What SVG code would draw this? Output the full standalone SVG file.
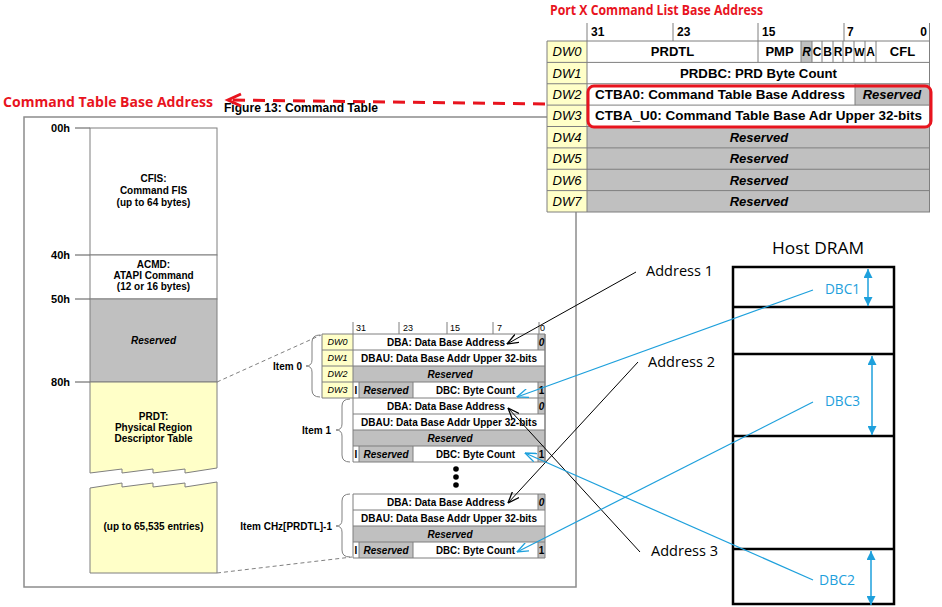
<svg xmlns="http://www.w3.org/2000/svg" width="942" height="607" viewBox="0 0 942 607">
<style>
.a{font-family:'Liberation Sans',Arial,sans-serif;font-weight:bold;fill:#000}
.i{font-style:italic}
.n{font-weight:normal}
.c{font-family:'Open Sans','Liberation Sans',sans-serif;font-weight:normal}
.red{fill:#e8141e;font-weight:bold}
.blue{fill:#1ea0dc}
.m{text-anchor:middle}
.e{text-anchor:end}
.g{fill:#c0c0c0}
.y{fill:#ffffc8}
.w{fill:#fff}
.ln{stroke:#7f7f7f;stroke-width:1;fill:none}
.s13{font-size:13px}
.s12{font-size:12px}
.s10{font-size:10px}
.s9{font-size:9px}
.blk{stroke:#000;stroke-width:1;fill:none}
.bl{stroke:#1ea0dc;stroke-width:1.2;fill:none}
</style>
<defs>
<marker id="ab" viewBox="0 0 12 10" refX="11.5" refY="5" markerWidth="12" markerHeight="10" markerUnits="userSpaceOnUse" orient="auto"><path d="M0,0.5 L11.5,5 L0,9.5" fill="none" stroke="#000" stroke-width="1.3"/></marker>
<marker id="abl" viewBox="0 0 12 10" refX="11.5" refY="5" markerWidth="12" markerHeight="10" markerUnits="userSpaceOnUse" orient="auto"><path d="M0,0.5 L11.5,5 L0,9.5" fill="none" stroke="#1ea0dc" stroke-width="1.3"/></marker>
<marker id="tri" viewBox="0 0 10 10" refX="10" refY="5" markerWidth="10" markerHeight="9" markerUnits="userSpaceOnUse" orient="auto-start-reverse"><path d="M0,0 L10,5 L0,10 Z" fill="#1ea0dc"/></marker>
</defs>
<rect width="942" height="607" fill="#fff"/>

<!-- Command table frame -->
<g id="command-table">
<rect x="24" y="117" width="552" height="470" fill="#fff" stroke="#8c8c8c" stroke-width="1.5"/>
<text x="224" y="112" class="a s12" textLength="154" lengthAdjust="spacingAndGlyphs">Figure 13: Command Table</text>
<path d="M75,128H90M75,255H90M75,299H90M75,382H90" stroke="#555" stroke-width="1"/>
<text x="70" y="132" class="a e" font-size="11">00h</text>
<text x="70" y="259" class="a e" font-size="11">40h</text>
<text x="70" y="303" class="a e" font-size="11">50h</text>
<text x="70" y="386" class="a e" font-size="11">80h</text>
<rect x="90" y="128" width="127" height="127" class="w" stroke="#7f7f7f"/>
<rect x="90" y="255" width="127" height="44" class="w" stroke="#7f7f7f"/>
<rect x="90" y="299" width="127" height="83" class="g" stroke="#7f7f7f"/>
<path d="M90,382H217V468L185,473V469L153,473V469L122,473V469L90,473Z" class="y" stroke="#7f7f7f"/>
<path d="M90,488L122,483V487L153,483V487L185,483V487L217,482V573H90Z" class="y" stroke="#7f7f7f"/>
<text class="a s10 m"><tspan x="153.5" y="182">CFIS:</tspan><tspan x="153.5" y="194">Command FIS</tspan><tspan x="153.5" y="206">(up to 64 bytes)</tspan></text>
<text class="a s10 m"><tspan x="153.5" y="268">ACMD:</tspan><tspan x="153.5" y="279">ATAPI Command</tspan><tspan x="153.5" y="290">(12 or 16 bytes)</tspan></text>
<text x="153.5" y="344" class="a s10 m i">Reserved</text>
<text class="a s10 m"><tspan x="153.5" y="420">PRDT:</tspan><tspan x="153.5" y="431">Physical Region</tspan><tspan x="153.5" y="442">Descriptor Table</tspan></text>
<text x="153.5" y="530" class="a s10 m">(up to 65,535 entries)</text>
<path d="M217,382L321,335M217,573L352,557" stroke="#808080" stroke-width="1" stroke-dasharray="4 3" fill="none"/>
</g>

<!-- PRD table detail -->
<g id="prdt-detail">
<path d="M353,322V334M399,322V334M447,322V334M493,322V334M539,322V334" class="ln"/>
<text class="a n s9"><tspan x="356" y="331">31</tspan><tspan x="403" y="331">23</tspan><tspan x="450" y="331">15</tspan><tspan x="497" y="331">7</tspan><tspan x="540" y="331">0</tspan></text>
<rect x="322" y="334" width="31" height="64" class="y"/>
<rect x="353" y="334" width="192" height="16" class="w"/>
<rect x="538" y="334" width="7" height="16" class="g"/>
<rect x="353" y="350" width="192" height="16" class="w"/>
<rect x="353" y="366" width="192" height="16" class="g"/>
<rect x="353" y="382" width="192" height="16" class="w"/>
<rect x="359" y="382" width="54" height="16" class="g"/>
<rect x="538" y="382" width="7" height="16" class="g"/>
<rect x="353" y="398" width="192" height="16" class="w"/>
<rect x="538" y="398" width="7" height="16" class="g"/>
<rect x="353" y="414" width="192" height="16" class="w"/>
<rect x="353" y="430" width="192" height="16" class="g"/>
<rect x="353" y="446" width="192" height="16" class="w"/>
<rect x="359" y="446" width="54" height="16" class="g"/>
<rect x="538" y="446" width="7" height="16" class="g"/>
<rect x="353" y="494" width="192" height="16" class="w"/>
<rect x="538" y="494" width="7" height="16" class="g"/>
<rect x="353" y="510" width="192" height="16" class="w"/>
<rect x="353" y="526" width="192" height="16" class="g"/>
<rect x="353" y="542" width="192" height="16" class="w"/>
<rect x="359" y="542" width="54" height="16" class="g"/>
<rect x="538" y="542" width="7" height="16" class="g"/>
<path class="ln" d="M322,334H545V462H353M322,350H545M322,366H545M322,382H545M322,398H545M353,414H545M353,430H545M353,446H545M322,334V398M353,334V462M545,334V462M538,334V350M538,398V414M538,382V398M538,446V462M359,382V398M413,382V398M359,446V462M413,446V462"/>
<path class="ln" d="M353,494H545V558H353ZM353,510H545M353,526H545M353,542H545M538,494V510M538,542V558M359,542V558M413,542V558"/>
<text class="a n i s9 m"><tspan x="337.5" y="345">DW0</tspan><tspan x="337.5" y="361">DW1</tspan><tspan x="337.5" y="377">DW2</tspan><tspan x="337.5" y="393">DW3</tspan></text>
<g class="a s10">
<text x="446" y="345.5" class="m" textLength="118" lengthAdjust="spacingAndGlyphs">DBA: Data Base Address</text>
<text x="449" y="361.5" class="m" textLength="176" lengthAdjust="spacingAndGlyphs">DBAU: Data Base Addr Upper 32-bits</text>
<text x="450" y="377.5" class="m i">Reserved</text>
<text x="356" y="393.5" class="m">I</text>
<text x="386" y="393.5" class="m i">Reserved</text>
<text x="475.5" y="393.5" class="m" textLength="79" lengthAdjust="spacingAndGlyphs">DBC: Byte Count</text>
<text x="541.5" y="345.5" class="m i">0</text>
<text x="541.5" y="393.5" class="m">1</text>
<text x="446" y="409.5" class="m" textLength="118" lengthAdjust="spacingAndGlyphs">DBA: Data Base Address</text>
<text x="449" y="425.5" class="m" textLength="176" lengthAdjust="spacingAndGlyphs">DBAU: Data Base Addr Upper 32-bits</text>
<text x="450" y="441.5" class="m i">Reserved</text>
<text x="356" y="457.5" class="m">I</text>
<text x="386" y="457.5" class="m i">Reserved</text>
<text x="475.5" y="457.5" class="m" textLength="79" lengthAdjust="spacingAndGlyphs">DBC: Byte Count</text>
<text x="541.5" y="409.5" class="m i">0</text>
<text x="541.5" y="457.5" class="m">1</text>
<text x="446" y="505.5" class="m" textLength="118" lengthAdjust="spacingAndGlyphs">DBA: Data Base Address</text>
<text x="449" y="521.5" class="m" textLength="176" lengthAdjust="spacingAndGlyphs">DBAU: Data Base Addr Upper 32-bits</text>
<text x="450" y="537.5" class="m i">Reserved</text>
<text x="356" y="553.5" class="m">I</text>
<text x="386" y="553.5" class="m i">Reserved</text>
<text x="475.5" y="553.5" class="m" textLength="79" lengthAdjust="spacingAndGlyphs">DBC: Byte Count</text>
<text x="541.5" y="505.5" class="m i">0</text>
<text x="541.5" y="553.5" class="m">1</text>
<text x="302" y="370" class="e">Item 0</text>
<text x="331" y="434" class="e">Item 1</text>
<text x="332" y="530" class="e">Item CHz[PRDTL]-1</text>
</g>
<path d="M320,335Q312,335 312,342V360Q312,366 306,366Q312,366 312,372V390Q312,397 320,397" stroke="#808080" fill="none"/>
<path d="M350,399Q342,399 342,406V424Q342,430 336,430Q342,430 342,436V455Q342,462 350,462" stroke="#808080" fill="none"/>
<path d="M350,494Q342,494 342,501V520Q342,526 336,526Q342,526 342,532V550Q342,557 350,557" stroke="#808080" fill="none"/>
<circle cx="456" cy="469" r="2.8"/>
<circle cx="456" cy="477" r="2.8"/>
<circle cx="456" cy="485" r="2.8"/>
</g>

<!-- Port X command list -->
<g id="port-cmd-list">
<text x="550" y="15" class="c red" font-size="14" textLength="213" lengthAdjust="spacingAndGlyphs">Port X Command List Base Address</text>
<rect x="547" y="22" width="383" height="19" class="w"/>
<rect x="547" y="41" width="40" height="171" class="y"/>
<rect x="587" y="41" width="343" height="171" class="w"/>
<rect x="801" y="41" width="11" height="21.4" class="g"/>
<rect x="855" y="83.75" width="75" height="21.4" class="g"/>
<rect x="587" y="126.5" width="343" height="85.5" class="g"/>
<path class="ln" d="M587,23V41M673,23V41M758,23V62.4M844,23V41M929.5,23V212M547,41H930M547,62.4H930M547,83.75H930M547,105.1H930M547,126.5H930M547,147.9H930M547,169.25H930M547,190.6H930M547,212H930M547,41V212M587,41V212M801,41V62.4M812,41V62.4M822,41V62.4M833,41V62.4M843,41V62.4M854,41V62.4M865,41V62.4M876,41V62.4M855,83.75V105.1"/>
<g class="a s13">
<text x="591" y="36" font-size="12">31</text>
<text x="677" y="36" font-size="12">23</text>
<text x="762" y="36" font-size="12">15</text>
<text x="847" y="36" font-size="12">7</text>
<text x="927" y="36" font-size="12" class="e">0</text>
<g class="n i"><text x="567" y="56" class="m">DW0</text><text x="567" y="77.5" class="m">DW1</text><text x="567" y="99" class="m">DW2</text><text x="567" y="120.3" class="m">DW3</text><text x="567" y="141.7" class="m">DW4</text><text x="567" y="163" class="m">DW5</text><text x="567" y="184.5" class="m">DW6</text><text x="567" y="205.8" class="m">DW7</text></g>
<text x="672.5" y="56" class="m">PRDTL</text>
<text x="779.5" y="56" class="m">PMP</text>
<text x="806.5" y="56" class="m i" font-size="12">R</text>
<text x="817" y="56" class="m" font-size="12">C</text>
<text x="827.5" y="56" class="m" font-size="12">B</text>
<text x="838" y="56" class="m" font-size="12">R</text>
<text x="848.5" y="56" class="m" font-size="12">P</text>
<text x="859.5" y="56" class="m" font-size="11">W</text>
<text x="870.5" y="56" class="m" font-size="12">A</text>
<text x="902.5" y="56" class="m">CFL</text>
<text x="758.5" y="77.5" class="m" textLength="157" lengthAdjust="spacingAndGlyphs">PRDBC: PRD Byte Count</text>
<text x="720" y="99" class="m" textLength="250" lengthAdjust="spacingAndGlyphs">CTBA0: Command Table Base Address</text>
<text x="892" y="99" class="m i">Reserved</text>
<text x="758.5" y="120.3" class="m" textLength="327" lengthAdjust="spacingAndGlyphs">CTBA_U0: Command Table Base Adr Upper 32-bits</text>
<text x="759" y="141.7" class="m i">Reserved</text>
<text x="759" y="163" class="m i">Reserved</text>
<text x="759" y="184.5" class="m i">Reserved</text>
<text x="759" y="205.8" class="m i">Reserved</text>
</g>
<rect x="588" y="86" width="343" height="41" rx="6" fill="none" stroke="#e8141e" stroke-width="3"/>
</g>

<!-- Host DRAM -->
<g id="host-dram">
<text x="772" y="254" class="c" font-size="17" textLength="92" lengthAdjust="spacingAndGlyphs">Host DRAM</text>
<rect x="733" y="267" width="161" height="337" fill="#fff" stroke="#000" stroke-width="2.5"/>
<path d="M733,307H894M733,354H894M733,436H894M733,549H894" stroke="#000" stroke-width="2.5"/>
</g>

<g id="labels">
<text x="3" y="107" class="c red" font-size="15" textLength="210" lengthAdjust="spacingAndGlyphs">Command Table Base Address</text>
<text x="646" y="276" class="c" font-size="14" textLength="67" lengthAdjust="spacingAndGlyphs">Address 1</text>
<text x="648" y="367" class="c" font-size="14" textLength="67" lengthAdjust="spacingAndGlyphs">Address 2</text>
<text x="651" y="556" class="c" font-size="14" textLength="67" lengthAdjust="spacingAndGlyphs">Address 3</text>
<text x="825" y="294" class="c blue" font-size="14" textLength="35" lengthAdjust="spacingAndGlyphs">DBC1</text>
<text x="825" y="406" class="c blue" font-size="14" textLength="35" lengthAdjust="spacingAndGlyphs">DBC3</text>
<text x="819" y="585" class="c blue" font-size="14" textLength="36" lengthAdjust="spacingAndGlyphs">DBC2</text>
</g>

<!-- Connectors -->
<g id="connectors">
<path d="M545,104L232,100" stroke="#e8141e" stroke-width="3" stroke-dasharray="12 8" fill="none"/>
<path d="M241,94L228,100L241,106" stroke="#e8141e" stroke-width="3" fill="none"/>
<path d="M636,272L507,344" class="blk" marker-end="url(#ab)"/>
<path d="M638,362L508,503" class="blk" marker-end="url(#ab)"/>
<path d="M640,552L508,408" class="blk" marker-end="url(#ab)"/>
<path d="M813,290L517,397" class="bl" marker-end="url(#abl)"/>
<path d="M813,580L525,453" class="bl" marker-end="url(#abl)"/>
<path d="M813,402L517,552" class="bl" marker-end="url(#abl)"/>
<path d="M868,269V306" stroke="#1ea0dc" stroke-width="1.5" marker-start="url(#tri)" marker-end="url(#tri)"/>
<path d="M872,356V435" stroke="#1ea0dc" stroke-width="1.5" marker-start="url(#tri)" marker-end="url(#tri)"/>
<path d="M871,551V605" stroke="#1ea0dc" stroke-width="1.5" marker-start="url(#tri)" marker-end="url(#tri)"/>
</g>
</svg>
